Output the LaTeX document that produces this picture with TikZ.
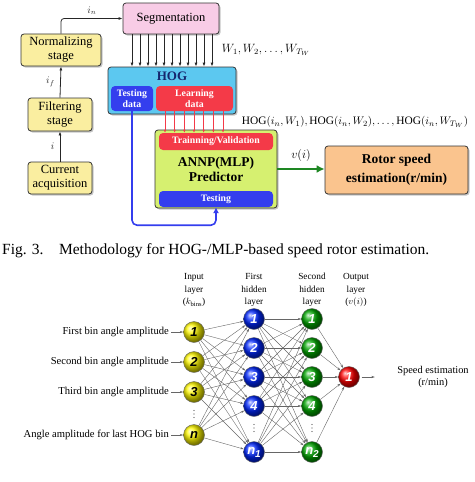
\documentclass[tikz,border=0pt]{standalone}
\usepackage{fontspec}
\setmainfont{Liberation Serif}
\setsansfont{Liberation Sans}
\usepackage{xcolor}
\usepackage{tikz}
\usetikzlibrary{
  positioning,
  calc,
  arrows.meta,
  shadows
}

\definecolor{segpink}{RGB}{248,204,230}
\definecolor{stageyellow}{RGB}{250,238,160}
\definecolor{hogcyan}{RGB}{92,200,240}
\definecolor{testblue}{RGB}{52,62,238}
\definecolor{learnred}{RGB}{244,58,72}
\definecolor{annpgreen}{RGB}{214,240,112}
\definecolor{rotororange}{RGB}{250,196,142}
\definecolor{navytext}{RGB}{22,38,110}
\definecolor{outgreen}{RGB}{30,135,35}

\tikzset{
  box/.style={draw=black!80, thick, rounded corners=3pt, align=center,
    font=\fontsize{12.5}{14}\selectfont,
    drop shadow={opacity=0.45, shadow xshift=1.5pt, shadow yshift=-1.5pt}},
  bar/.style={rounded corners=4pt, text=white, inner sep=0pt, align=center,
    font=\bfseries\fontsize{9.8}{11}\selectfont},
  flow/.style={-{Latex[length=4pt,width=3pt]}, black!85, thick},
  redflow/.style={-{Latex[length=3pt,width=2.5pt]}, learnred, semithick},
  neuron/.style={circle, minimum size=21pt, inner sep=0pt, draw=black!60,
    font=\sffamily\bfseries\itshape\fontsize{13}{13}\selectfont},
  link/.style={-{Stealth[length=3.5pt,width=2.2pt]}, black!60, line width=0.4pt},
  layerhead/.style={align=center, anchor=north, font=\fontsize{9.3}{12.5}\selectfont},
  inlabel/.style={anchor=east, inner sep=1pt, font=\fontsize{10.6}{12}\selectfont}
}

\begin{document}
\begin{tikzpicture}[x=1pt,y=-1pt]
  \useasboundingbox (0,0) rectangle (474,482);

  % 前処理の各段
  \node[box, fill=segpink, minimum width=96pt, minimum height=31pt] (seg) at (171,18.5) {Segmentation};
  \node[box, fill=stageyellow, minimum width=80pt, minimum height=32pt] (norm) at (61,50) {Normalizing\\stage};
  \node[box, fill=stageyellow, minimum width=64pt, minimum height=33pt] (filt) at (60,114.5) {Filtering\\stage};
  \node[box, fill=stageyellow, minimum width=64pt, minimum height=32pt] (cur) at (60,178) {Current\\acquisition};

  % HOGブロック
  \node[box, fill=hogcyan, minimum width=128pt, minimum height=47pt] (hog) at (172,90.5) {};
  \node[font=\bfseries\fontsize{13}{14}\selectfont, text=navytext] (hogtitle) at (172,76) {HOG};
  \node[bar, fill=testblue, minimum width=42pt, minimum height=25pt] (testd) at (132,98.5) {Testing\\data};
  \node[bar, fill=learnred, minimum width=77pt, minimum height=25pt] (learn) at (194.5,98.5) {Learning\\data};

  % 予測器と出力
  \node[box, fill=annpgreen, minimum width=122pt, minimum height=78pt] (annp) at (216,169) {};
  \node[bar, fill=learnred, minimum width=114pt, minimum height=17pt] (train) at (216,141.5) {Trainning/Validation};
  \node[bar, fill=testblue, minimum width=114pt, minimum height=16pt] (testb) at (216,199) {Testing};
  \node[align=center, font=\bfseries\fontsize{13.5}{15.5}\selectfont] (annptext) at (216,169.5) {ANNP(MLP)\\Predictor};
  \node[box, fill=rotororange, minimum width=143pt, minimum height=48pt,
    font=\bfseries\fontsize{13.5}{19}\selectfont] (rotor) at (396.5,170) {Rotor speed\\estimation(r/min)};

  % 信号の流れ
  \draw[flow] (cur.north) -- (filt.south) node[midway, left=2pt] {$i$};
  \draw[flow] (filt.north) -- (norm.south) node[midway, left=2pt] {$i_f$};
  \draw[flow, rounded corners=3pt] (norm.north) |- (seg.west) node[pos=0.75, above] {$i_n$};

  % 窓ごとの矢印
  \foreach \d in {-39,-31,...,41}
    \draw[flow] ([xshift=\d pt]seg.south) -- ([xshift=\d pt]seg.south |- hog.north);
  \node[font=\fontsize{12}{13}\selectfont] (wlabel) at (266,50) {$W_1, W_2, \ldots, W_{T_W}$};

  \foreach \d in {-29.5,-19.83,...,29}
    \draw[redflow] ([xshift=\d pt]learn.south) -- ([xshift=\d pt]learn.south |- train.north);
  \node[font=\fontsize{11.4}{12}\selectfont] (hoglabel) at (355,122)
    {$\mathrm{HOG}(i_n,W_1), \mathrm{HOG}(i_n,W_2), \ldots, \mathrm{HOG}(i_n,W_{T_W})$};

  \draw[testblue, line width=1.6pt, rounded corners=5pt, -{Latex[length=6pt,width=6pt]}]
    (testd.south) -- ++(0,114) -| (testb.south);
  \draw[outgreen, line width=2.6pt, -{Latex[length=8pt,width=8pt]}]
    (annp.east) -- (annp.east -| rotor.west) node[midway, above=3pt, black, font=\fontsize{12}{13}\selectfont] {$v(i)$};

  % キャプション
  \node[anchor=west, inner sep=0pt, font=\fontsize{15.5}{17}\selectfont] (cap) at (2,251)
    {Fig. 3.\quad Methodology for HOG-/MLP-based speed rotor estimation.};

  % ネットワークの各層
  \node[layerhead] (hin) at (194,270) {Input\\layer\\($k_{\mathrm{bins}}$)};
  \node[layerhead] (hha) at (254,270) {First\\hidden\\layer};
  \node[layerhead] (hhb) at (312,270) {Second\\hidden\\layer};
  \node[layerhead] (hout) at (356,270) {Output\\layer\\($v(i)$)};

  \foreach \n/\y in {1/332,2/362,3/392,n/435}
    \node[neuron, ball color=yellow!95!orange] (in\n) at (194,\y) {\n};
  \foreach \n/\y in {1/319,2/348,3/377,4/406}
    \node[neuron, ball color=blue!85!cyan, text=white] (ha\n) at (254,\y) {\n};
  \foreach \n/\y in {1/319,2/348,3/377,4/406}
    \node[neuron, ball color=green!65!black, text=white] (hb\n) at (312,\y) {\n};
  \node[neuron, ball color=blue!85!cyan, text=white] (han) at (254,452) {n\raisebox{-3pt}{\fontsize{10}{10}\selectfont 1}};
  \node[neuron, ball color=green!65!black, text=white] (hbn) at (312,452) {n\raisebox{-3pt}{\fontsize{10}{10}\selectfont 2}};
  \node[neuron, ball color=red, text=white] (out) at (349,377) {1};

  % 省略の点
  \foreach \x/\y in {194/414,254/428,312/428}
    \foreach \k in {-3.5,0,3.5}
      \fill[black!70] (\x,\y+\k) circle [radius=0.55pt];

  % 結合
  \foreach \i in {1,2,3,n}
    \foreach \j in {1,2,3,4,n}
      \draw[link] (in\i) -- (ha\j);
  \foreach \i in {1,2,3,4,n}
    \foreach \j in {1,2,3,4,n}
      \draw[link] (ha\i) -- (hb\j);
  \foreach \i in {1,2,3,4,n}
    \draw[link] (hb\i) -- (out);

  % 入出力のラベル
  \node[inlabel] (lab1) at (170,332) {First bin angle amplitude};
  \node[inlabel] (lab2) at (170,362) {Second bin angle amplitude};
  \node[inlabel] (lab3) at (170,392) {Third bin angle amplitude};
  \node[inlabel] (labn) at (170,435) {Angle amplitude for last HOG bin};
  \foreach \n in {1,2,3,n}
    \draw[link, shorten <=1pt] (lab\n) -- (in\n);
  \node[align=center, font=\fontsize{10.4}{12}\selectfont] (speed) at (433,377) {Speed estimation\\(r/min)};
  \draw[link, shorten <=2pt, shorten >=19pt] (out) -- (speed);
\end{tikzpicture}
\end{document}
